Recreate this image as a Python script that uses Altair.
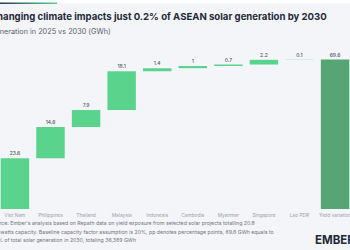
import altair as alt
import pandas as pd

# ---- data ----
countries = ["Viet Nam", "Philippines", "Thailand", "Malaysia", "Indonesia",
             "Cambodia", "Myanmar", "Singapore", "Lao PDR"]
values = [23.6, 14.6, 7.9, 18.1, 1.4, 1, 0.7, 2.2, 0.1]
total_label = "Yield variation"
total_value = 69.6

title_text = "Changing climate impacts just 0.2% of ASEAN solar generation by 2030"
subtitle_text = "Generation in 2025 vs 2030 (GWh)"
source_lines = [
    "Source: Ember's analysis based on Repath data on yield exposure from selected solar projects totalling 20.8",
    "gigawatts capacity. Baseline capacity factor assumption is 20%, pp denotes percentage points, 69.6 GWh equals to",
    "0.2% of total solar generation in 2030, totaling 36,389 GWh",
]
grid_values = [0, 20, 40, 60]

# ---- build waterfall table ----
rows = []
cum = 0.0
for c, v in zip(countries, values):
    rows.append({"cat": c, "start": cum, "end": cum + v, "label": f"{v:g}", "kind": "step"})
    cum += v
rows.append({"cat": total_label, "start": 0.0, "end": total_value,
             "label": f"{total_value:g}", "kind": "total"})
df = pd.DataFrame(rows)
order = countries + [total_label]

FONT = "Inter"
yscale = alt.Scale(domain=[0, 75], nice=False, zero=True)

x = alt.X("cat:N", sort=order, title=None,
          scale=alt.Scale(paddingInner=0.2, paddingOuter=0.02),
          axis=alt.Axis(labelAngle=0, labelFontSize=4.8, labelColor="#9a9ea8",
                        ticks=False, domain=False, labelPadding=3, labelFont=FONT))
y = alt.Y("start:Q", title=None, scale=yscale,
          axis=alt.Axis(values=grid_values, labels=False, ticks=False, domain=False,
                        grid=True, gridColor="#d6d8de", gridWidth=1))

bars = alt.Chart(df).mark_bar(opacity=1).encode(
    x=x, y=y, y2="end:Q",
    color=alt.Color("kind:N", scale=alt.Scale(domain=["step", "total"],
                                              range=["#5ad38c", "#55a674"]),
                    legend=None),
)

labels = alt.Chart(df).mark_text(baseline="bottom", dy=-2, fontSize=5, color="#555a63",
                                 font=FONT, fontWeight=500).encode(
    x=alt.X("cat:N", sort=order),
    y=alt.Y("end:Q", scale=yscale, axis=None),
    text="label:N",
)

one = pd.DataFrame({"k": [0]})

white_strip = alt.Chart(one).mark_rect(color="#ffffff").encode(
    x=alt.value(0), x2=alt.value(350), y=alt.value(-48), y2=alt.value(-45))

grad = alt.Gradient(gradient="linear",
                    stops=[alt.GradientStop(color="#263a52", offset=0),
                           alt.GradientStop(color="#5ad38c", offset=1)],
                    x1=0, x2=1, y1=0, y2=0)
accent = alt.Chart(one).mark_rect(color=grad).encode(
    x=alt.value(0), x2=alt.value(57), y=alt.value(-45.5), y2=alt.value(-44))

title = alt.Chart(pd.DataFrame({"t": [title_text]})).mark_text(
    align="left", baseline="middle", fontSize=9.6, fontWeight="bold",
    color="#1e2a38", font=FONT).encode(x=alt.value(-10), y=alt.value(-31), text="t:N")

subtitle = alt.Chart(pd.DataFrame({"t": [subtitle_text]})).mark_text(
    align="left", baseline="middle", fontSize=7.3, color="#5a5f69",
    font=FONT).encode(x=alt.value(-10), y=alt.value(-16), text="t:N")

source_layers = []
for line, ypos in zip(source_lines, [175, 183.5, 192]):
    source_layers.append(
        alt.Chart(pd.DataFrame({"t": [line]})).mark_text(
            align="left", baseline="middle", fontSize=5.2, color="#6f747e", font=FONT
        ).encode(x=alt.value(-10), y=alt.value(ypos), text="t:N")
    )

logo = alt.Chart(pd.DataFrame({"t": ["EMBER"]})).mark_text(
    align="left", baseline="middle", fontSize=11.5, fontWeight="bold",
    color="#1e2a38", font=FONT).encode(x=alt.value(315), y=alt.value(193), text="t:N")

chart = alt.layer(bars, labels, white_strip, accent, title, subtitle, *source_layers, logo).properties(
    width=350, height=161,
    autosize=alt.AutoSizeParams(type="none"),
    padding={"left": 0, "right": 0, "top": 48, "bottom": 41},
    background="#f4f5f9",
).configure_view(stroke=None)

chart.save("out.html", embed_options={"renderer": "svg", "actions": False})
